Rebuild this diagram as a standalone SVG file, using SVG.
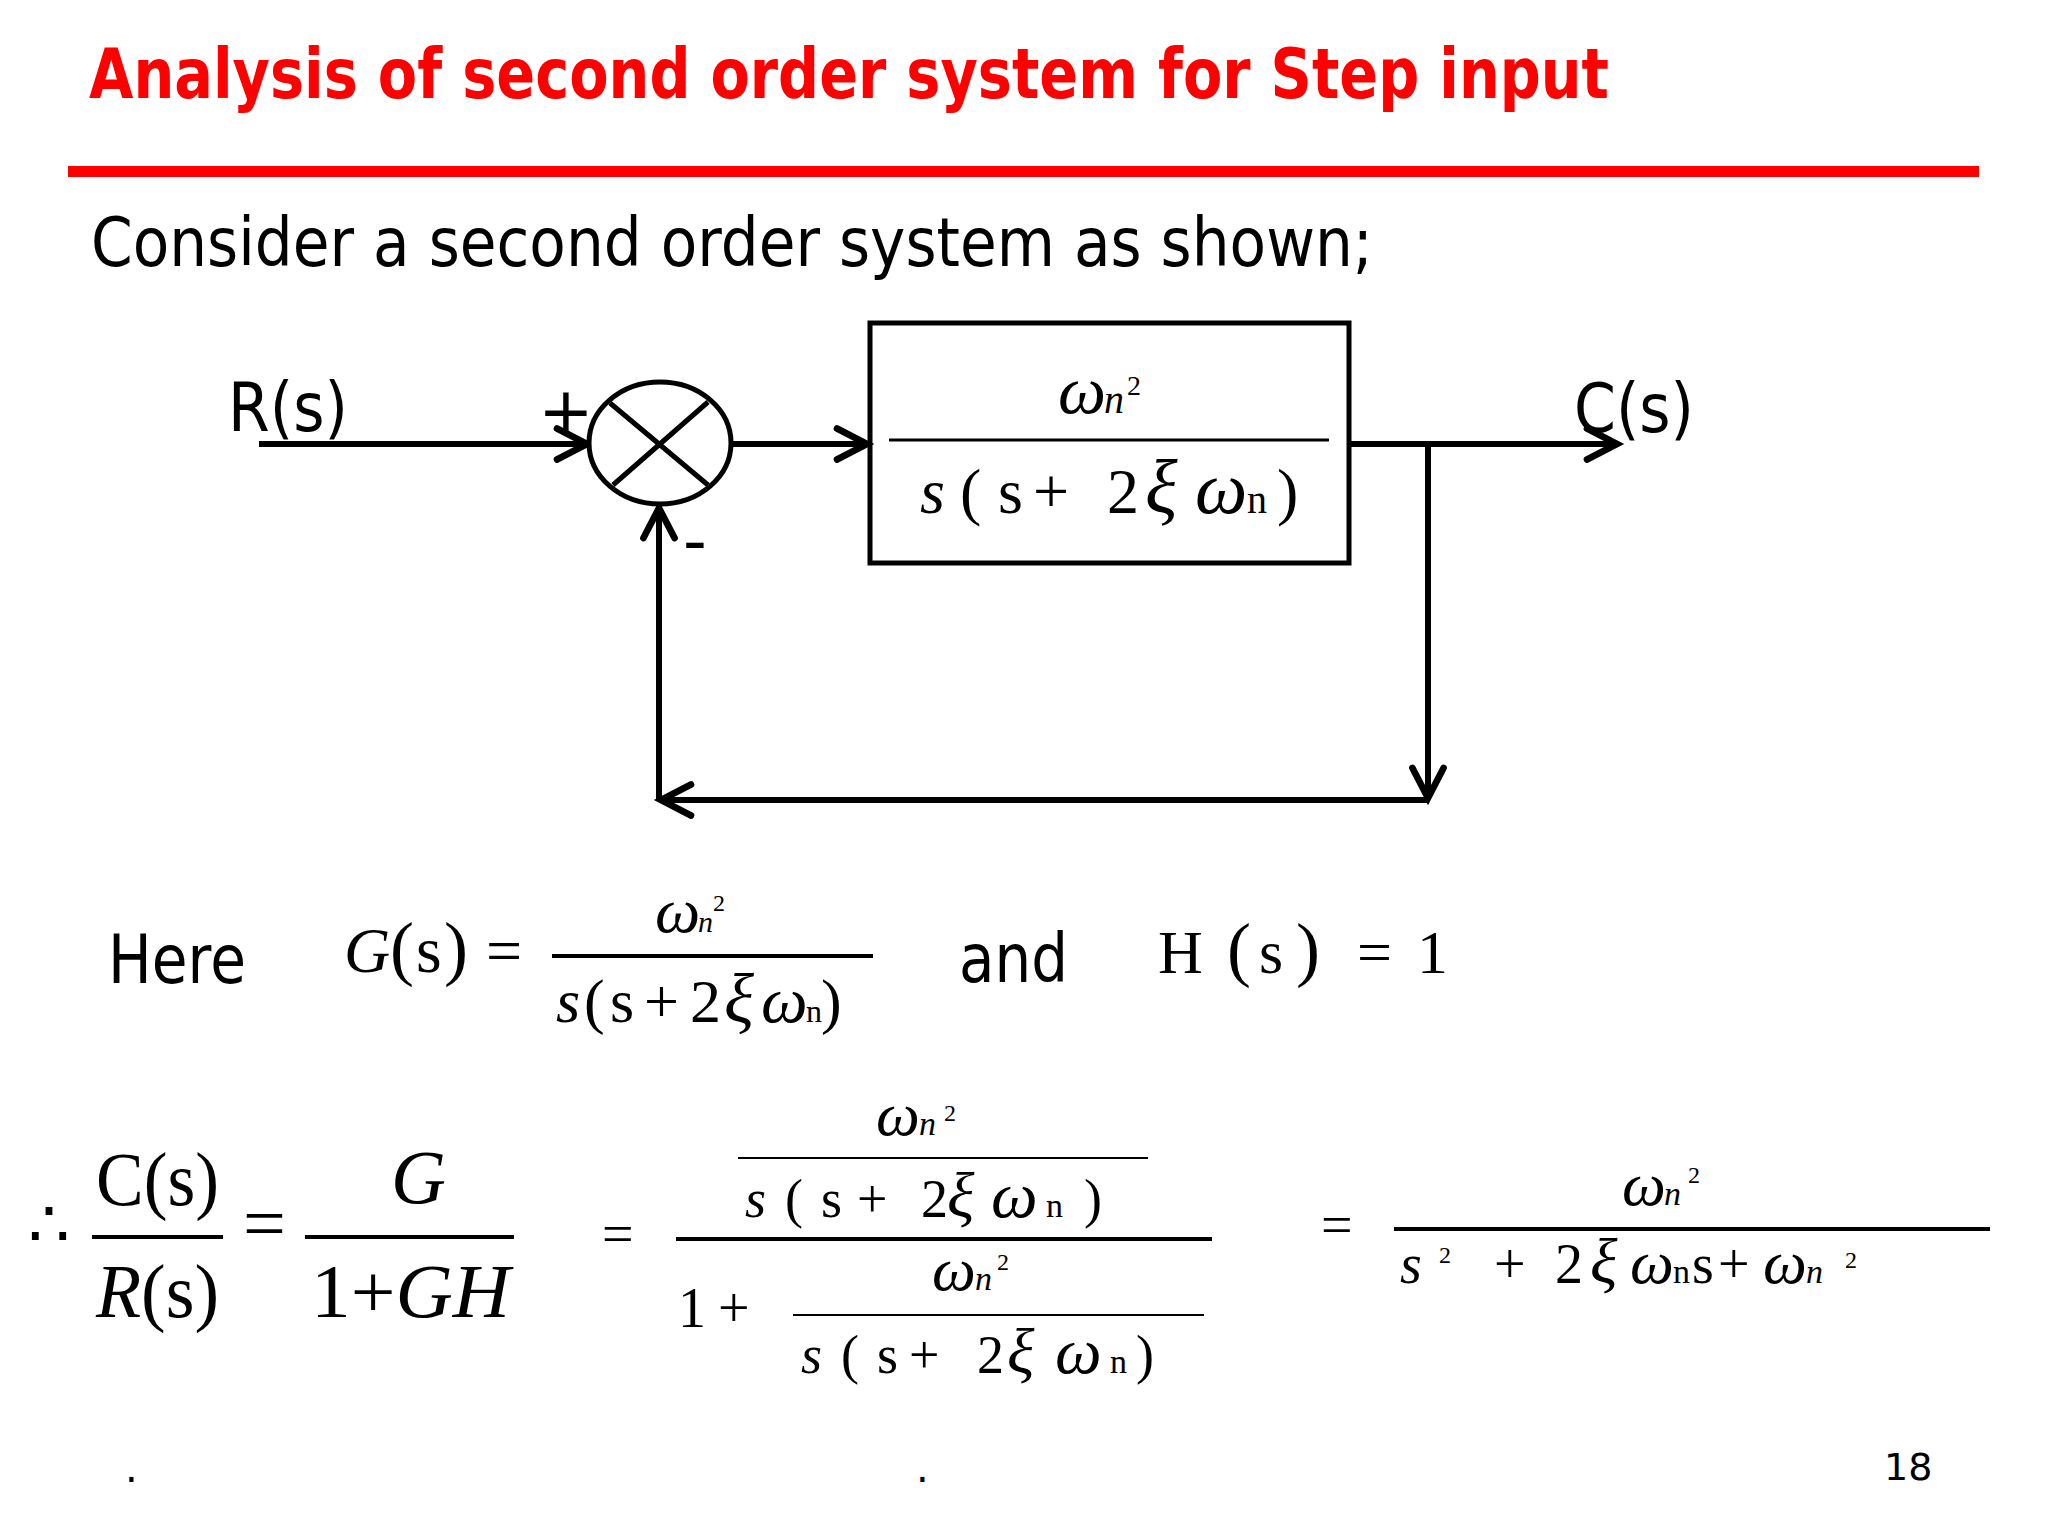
<svg xmlns="http://www.w3.org/2000/svg" width="2048" height="1536" viewBox="0 0 2048 1536">
<defs>
<style>
.sans{font-family:"DejaVu Sans","Liberation Sans",sans-serif;fill:#000;}
.math{font-family:"Liberation Serif","DejaVu Serif",serif;fill:#000;}
.it{font-style:italic;}
.conn{stroke:#000;stroke-width:6;fill:none;}
.bar{stroke:#000;fill:none;}
</style>
<marker id="arr" markerUnits="userSpaceOnUse" markerWidth="40" markerHeight="40" viewBox="-32 -18 36 36" refX="0" refY="0" orient="auto" overflow="visible">
<path d="M-27,-14 L0,0 L-27,14" fill="none" stroke="#000" stroke-width="6" stroke-linecap="round"/>
</marker>
</defs>
<rect width="2048" height="1536" fill="#fff"/>

<g id="header">
<text class="sans" x="89" y="98" font-size="70" font-weight="bold" fill="#ff0000" style="fill:#ff0000" textLength="1520" lengthAdjust="spacingAndGlyphs">Analysis of second order system for Step input</text>
<rect x="68" y="166" width="1911" height="11" fill="#ff0000"/>
<text class="sans" x="91" y="266" font-size="67" textLength="1282" lengthAdjust="spacingAndGlyphs">Consider a second order system as shown;</text>
</g>

<g id="connectors">
<path class="conn" d="M259,444 L587,444" marker-end="url(#arr)"/>
<path class="conn" d="M731,444 L867,444" marker-end="url(#arr)"/>
<path class="conn" d="M1349,444 L1617,444" marker-end="url(#arr)"/>
<path class="conn" d="M1428,444 L1428,798" marker-end="url(#arr)"/>
<path class="conn" d="M1428,800 L661,800" marker-end="url(#arr)"/>
<path class="conn" d="M659,800 L659,508" marker-end="url(#arr)"/>
</g>

<g id="label-R">
<text class="sans" x="228" y="431" font-size="68" textLength="120" lengthAdjust="spacingAndGlyphs">R(s)</text>
</g>
<g id="label-C">
<text class="sans" x="1574" y="432" font-size="68" textLength="120" lengthAdjust="spacingAndGlyphs">C(s)</text>
</g>

<g id="sum-junction">
<ellipse cx="660" cy="443" rx="71" ry="61" fill="#fff" stroke="#000" stroke-width="5"/>
<path d="M610,403 L708,485 M708,402 L613,485" stroke="#000" stroke-width="5" fill="none"/>
<text class="sans" x="566" y="434" font-size="66" text-anchor="middle">+</text>
<text class="sans" x="695" y="563" font-size="66" text-anchor="middle">-</text>
</g>

<g id="block-G">
<rect x="870" y="323" width="479" height="240" fill="none" stroke="#000" stroke-width="5"/>
<line class="bar" x1="889" y1="440" x2="1329" y2="440" stroke-width="3"/>
<text class="math" font-size="68" y="413"><tspan class="it" x="1058">ω</tspan><tspan class="it" x="1104" font-size="40">n</tspan><tspan x="1127" y="395" font-size="28">2</tspan></text>
<text class="math" font-size="64" y="513"><tspan class="it" x="920">s</tspan><tspan x="960">(</tspan><tspan x="998">s</tspan><tspan x="1033">+</tspan><tspan x="1107">2</tspan><tspan class="it" x="1145" font-size="76">ξ</tspan><tspan class="it" x="1195" font-size="74">ω</tspan><tspan x="1247" font-size="40">n</tspan><tspan x="1277">)</tspan></text>
</g>

<g id="here-line">
<text class="sans" x="108" y="983" font-size="68" textLength="138" lengthAdjust="spacingAndGlyphs">Here</text>
<text class="math" font-size="64" y="972"><tspan class="it" x="344">G</tspan><tspan x="390" font-size="72">(</tspan><tspan x="416" font-size="66">s</tspan><tspan x="444" font-size="72">)</tspan><tspan x="486">=</tspan></text>
<line class="bar" x1="552" y1="956" x2="873" y2="956" stroke-width="4"/>
<text class="math" font-size="64" y="932"><tspan class="it" x="655">ω</tspan><tspan class="it" x="698" font-size="30">n</tspan><tspan x="713" y="911" font-size="24">2</tspan></text>
<text class="math" font-size="62" y="1022"><tspan class="it" x="556">s</tspan><tspan x="584">(</tspan><tspan x="610">s</tspan><tspan x="644">+</tspan><tspan x="690">2</tspan><tspan class="it" x="724" font-size="70">ξ</tspan><tspan class="it" x="761" font-size="66">ω</tspan><tspan x="806" font-size="32">n</tspan><tspan x="821">)</tspan></text>
<text class="sans" x="959" y="982" font-size="68" textLength="109" lengthAdjust="spacingAndGlyphs">and</text>
<text class="math" font-size="62" y="973"><tspan x="1158">H</tspan><tspan x="1227" font-size="72">(</tspan><tspan x="1259">s</tspan><tspan x="1296" font-size="72">)</tspan><tspan x="1357">=</tspan><tspan x="1417">1</tspan></text>
</g>

<g id="closed-loop">
<text class="math" x="28" y="1247" font-size="66">∴</text>
<text class="math" font-size="76" y="1205" x="96" textLength="123" lengthAdjust="spacingAndGlyphs">C(s)</text>
<line class="bar" x1="92" y1="1237" x2="223" y2="1237" stroke-width="4"/>
<text class="math" font-size="76" y="1317" x="96" textLength="123" lengthAdjust="spacingAndGlyphs"><tspan class="it">R</tspan>(s)</text>
<text class="math" font-size="76" x="243" y="1249">=</text>
<text class="math it" font-size="76" x="391" y="1203">G</text>
<line class="bar" x1="305" y1="1237" x2="514" y2="1237" stroke-width="4"/>
<text class="math" font-size="76" y="1317" x="311" textLength="199" lengthAdjust="spacingAndGlyphs">1+<tspan class="it">GH</tspan></text>
<text class="math" font-size="56" x="602" y="1253">=</text>

<line class="bar" x1="676" y1="1239" x2="1212" y2="1239" stroke-width="4"/>
<text class="math" font-size="62" y="1135"><tspan class="it" x="876">ω</tspan><tspan class="it" x="919" font-size="34">n</tspan><tspan x="944" y="1121" font-size="24">2</tspan></text>
<line class="bar" x1="738" y1="1158" x2="1148" y2="1158" stroke-width="2"/>
<text class="math" font-size="54" y="1217"><tspan class="it" x="745">s</tspan><tspan x="785">(</tspan><tspan x="821">s</tspan><tspan x="857">+</tspan><tspan x="921">2</tspan><tspan class="it" x="947" font-size="64">ξ</tspan><tspan class="it" x="991" font-size="66">ω</tspan><tspan x="1046" font-size="34">n</tspan><tspan x="1084">)</tspan></text>
<text class="math" font-size="56" y="1327"><tspan x="678">1</tspan><tspan x="718">+</tspan></text>
<text class="math" font-size="62" y="1290"><tspan class="it" x="932">ω</tspan><tspan class="it" x="975" font-size="34">n</tspan><tspan x="997" y="1270" font-size="24">2</tspan></text>
<line class="bar" x1="793" y1="1315" x2="1204" y2="1315" stroke-width="2"/>
<text class="math" font-size="54" y="1373"><tspan class="it" x="801">s</tspan><tspan x="841">(</tspan><tspan x="877">s</tspan><tspan x="909">+</tspan><tspan x="977">2</tspan><tspan class="it" x="1007" font-size="64">ξ</tspan><tspan class="it" x="1055" font-size="66">ω</tspan><tspan x="1110" font-size="34">n</tspan><tspan x="1136">)</tspan></text>

<text class="math" font-size="56" x="1321" y="1244">=</text>
<line class="bar" x1="1394" y1="1229" x2="1990" y2="1229" stroke-width="4"/>
<text class="math" font-size="62" y="1205"><tspan class="it" x="1622">ω</tspan><tspan class="it" x="1664" font-size="34">n</tspan><tspan x="1688" y="1183" font-size="24">2</tspan></text>
<text class="math" font-size="56" y="1283"><tspan class="it" x="1400">s</tspan><tspan x="1439" y="1263" font-size="24">2</tspan><tspan x="1494" y="1283">+</tspan><tspan x="1555">2</tspan><tspan class="it" x="1590" font-size="64">ξ</tspan><tspan class="it" x="1630" font-size="62">ω</tspan><tspan x="1673" font-size="34">n</tspan><tspan x="1692">s</tspan><tspan x="1718">+</tspan><tspan class="it" x="1763" font-size="62">ω</tspan><tspan class="it" x="1806" font-size="34">n</tspan><tspan x="1845" y="1268" font-size="24">2</tspan></text>
</g>

<g id="footer">
<text class="sans" x="125" y="1482" font-size="40">.</text>
<text class="sans" x="916" y="1482" font-size="40">.</text>
<text class="sans" x="1884" y="1480" font-size="38">18</text>
</g>
</svg>
